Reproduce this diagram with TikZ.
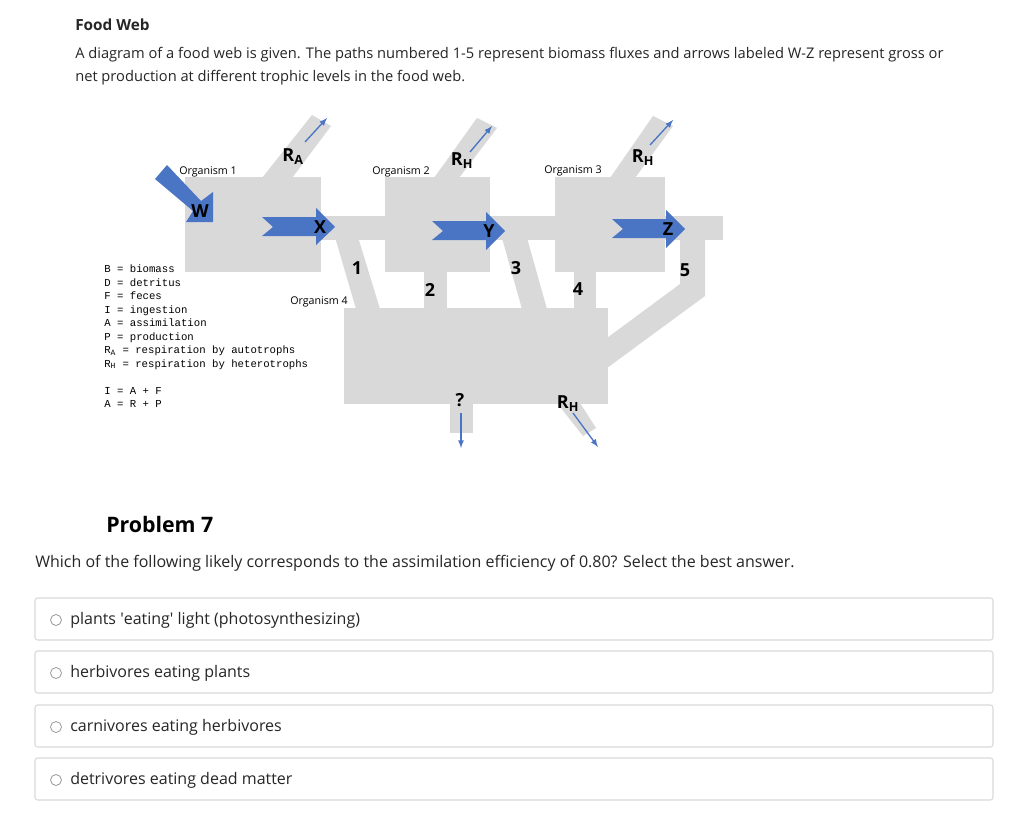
\documentclass[tikz,border=0pt]{standalone}
\usepackage{fontspec}
\setmainfont{Open Sans}
\newfontfamily\mono{Liberation Mono}
\begin{document}
\begin{tikzpicture}[x=0.75pt,y=-0.75pt,
  gr/.style={fill=black!15,draw=none},
  bl/.style={fill={rgb,255:red,74;green,116;blue,196},draw=none},
  blarr/.style={draw={rgb,255:red,74;green,116;blue,196},line width=1pt,-latex},
  big/.style={font=\bfseries\fontsize{13.5}{13.5}\selectfont},
  org/.style={font=\fontsize{8}{8}\selectfont},
  leg/.style={font=\mono\fontsize{8}{10.1}\selectfont,anchor=north west,align=left,inner sep=0},
  txt/.style={anchor=west,inner sep=0,font=\fontsize{11}{11}\selectfont,text=black!85},
  opt/.style={draw=black!15,line width=0.8pt,rounded corners=2pt},
  opttxt/.style={anchor=west,inner sep=0,font=\fontsize{12}{12}\selectfont,text=black!85},
  rad/.style={draw=black!40,line width=0.6pt}]
\useasboundingbox[fill=white] (0,0) rectangle (1024,820);
% header
\node[txt,font=\bfseries\fontsize{11.5}{11.5}\selectfont] (title) at (75,25) {Food Web};
\node[txt] (p1) at (75,55) {A diagram of a food web is given. The paths numbered 1-5 represent biomass fluxes and arrows labeled W-Z represent gross or};
\node[txt] (p2) at (75,78) {net production at different trophic levels in the food web.};
% grey structure
\fill[gr] (185,177) rectangle (321,272);
\fill[gr] (385,177) rectangle (490,272);
\fill[gr] (555,177) rectangle (665,272);
\fill[gr] (344,308) rectangle (608,404);
\fill[gr] (321,216) rectangle (723,240);
\fill[gr] (335,237) -- (358,237) -- (380,309) -- (356,309) -- cycle;
\fill[gr] (424,270) rectangle (447,309);
\fill[gr] (502,238) -- (527,238) -- (547,309) -- (522,309) -- cycle;
\fill[gr] (574,270) rectangle (596,309);
\fill[gr] (680,238) -- (705,238) -- (705,296) -- (607,368) -- (607,338) -- (680,284) -- cycle;
\fill[gr] (450,402) rectangle (473,433);
\fill[gr] (557,403) -- (580,403) -- (596,428) -- (583,436) -- cycle;
\fill[gr] (262,178) -- (292,178) -- (331,126) -- (312,115) -- cycle;
\fill[gr] (434,178) -- (459,178) -- (497,128) -- (477,118) -- cycle;
\fill[gr] (610,178) -- (635,178) -- (673,126) -- (653,116) -- cycle;
% respiration arrows
\coordinate (ra0) at (305,142); \coordinate (ra1) at (327,118);
\coordinate (rh0) at (470,152); \coordinate (rh1) at (492,126);
\coordinate (rg0) at (650,145); \coordinate (rg1) at (673,120);
\coordinate (q0) at (461,413); \coordinate (q1) at (461,448);
\coordinate (rb0) at (573,413); \coordinate (rb1) at (598,447);
\draw[blarr] (ra0) -- (ra1);
\draw[blarr] (rh0) -- (rh1);
\draw[blarr] (rg0) -- (rg1);
\draw[blarr] (q0) -- (q1);
\draw[blarr] (rb0) -- (rb1);
% blue production arrows
\fill[bl] (155,179) -- (167,165) -- (201,201) -- (213,192) -- (213,222) -- (186,222) -- (193,211) -- cycle;
\fill[bl] (262,217) -- (316,217) -- (316,208) -- (335,227) -- (316,245) -- (316,236) -- (262,236) -- (273,227) -- cycle;
\fill[bl] (432,221) -- (486,221) -- (486,212) -- (505,231) -- (486,250) -- (486,240) -- (432,240) -- (443,231) -- cycle;
\fill[bl] (612,219) -- (666,219) -- (666,210) -- (685,229) -- (666,248) -- (666,238) -- (612,238) -- (623,229) -- cycle;
% labels
\node[big] (W) at (200,211) {W};
\node[big] (X) at (320,227) {X};
\node[big] (Y) at (489,231) {Y};
\node[big] (Z) at (668,229) {Z};
\node[org] (o1) at (208,172) {Organism 1};
\node[org] (o2) at (401,172) {Organism 2};
\node[org] (o3) at (573,171) {Organism 3};
\node[org] (o4) at (319,302) {Organism 4};
\node[big] (RA) at (293,157) {R\textsubscript{A}};
\node[big] (RH1) at (462,161) {R\textsubscript{H}};
\node[big] (RH2) at (643,158) {R\textsubscript{H}};
\node[big] (RH3) at (568,404) {R\textsubscript{H}};
\node[big] (q) at (460,400) {?};
\node[big] (n1) at (357,268) {1};
\node[big] (n2) at (430,290) {2};
\node[big] (n3) at (516,268) {3};
\node[big] (n4) at (578,289) {4};
\node[big] (n5) at (685,270) {5};
\node[leg] (legend) at (104,265) {B = biomass\\D = detritus\\F = feces\\I = ingestion\\A = assimilation\\P = production\\R\textsubscript{A} = respiration by autotrophs\\R\textsubscript{H} = respiration by heterotrophs\\[10pt]I = A + F\\A = R + P};
% problem
\node[txt,font=\bfseries\fontsize{16}{16}\selectfont,text=black] (prob) at (106,524) {Problem 7};
\node[txt,font=\fontsize{12}{12}\selectfont] (ques) at (35,563) {Which of the following likely corresponds to the assimilation efficiency of 0.80? Select the best answer.};
\draw[opt] (35,598) rectangle (993,640);
\draw[opt] (35,651) rectangle (993,693);
\draw[opt] (35,705) rectangle (993,747);
\draw[opt] (35,758) rectangle (993,800);
\draw[rad] (56,620) circle (5.5);
\draw[rad] (56,673) circle (5.5);
\draw[rad] (56,727) circle (5.5);
\draw[rad] (56,780) circle (5.5);
\node[opttxt] (a1) at (70,620) {plants \textquotesingle eating\textquotesingle\ light (photosynthesizing)};
\node[opttxt] (a2) at (70,673) {herbivores eating plants};
\node[opttxt] (a3) at (70,727) {carnivores eating herbivores};
\node[opttxt] (a4) at (70,780) {detrivores eating dead matter};
\end{tikzpicture}
\end{document}
